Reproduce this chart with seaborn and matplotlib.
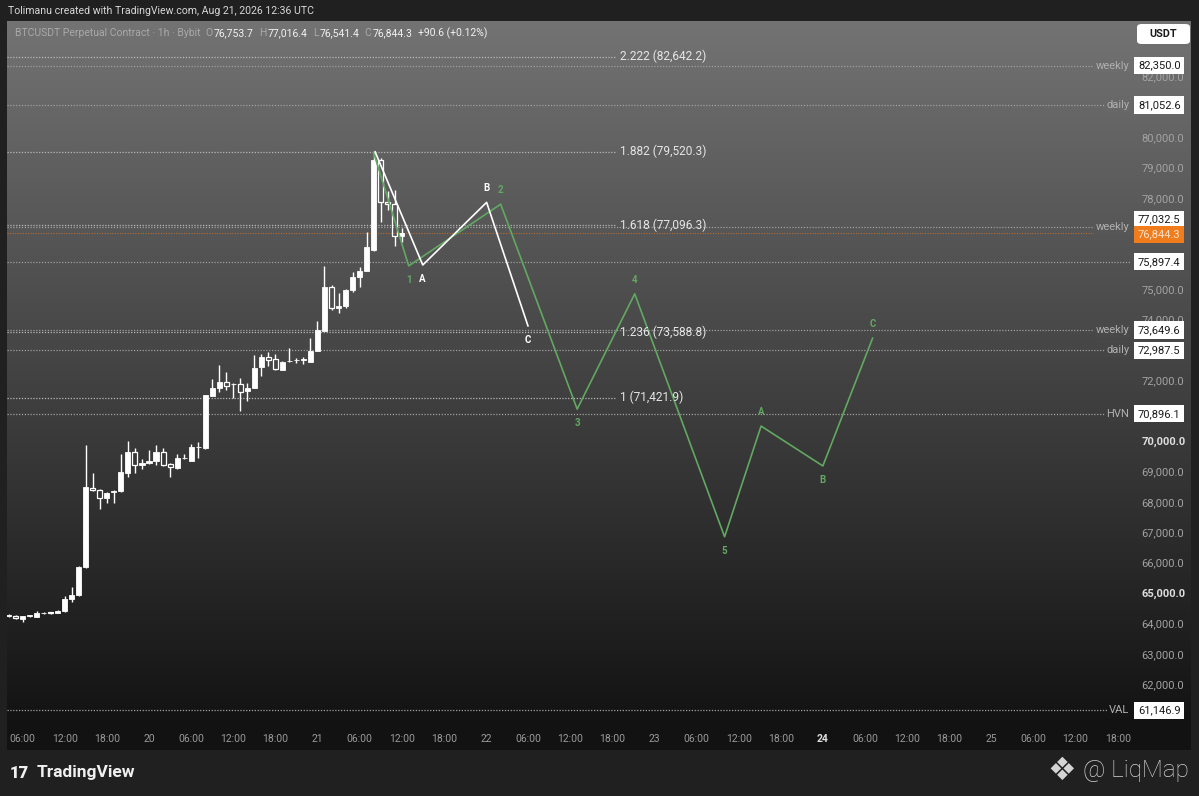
import numpy as np
import pandas as pd
import seaborn as sns
import matplotlib
matplotlib.use('Agg')
from matplotlib import pyplot as plt
from matplotlib.colors import LinearSegmentedColormap
from matplotlib.patches import Rectangle, FancyBboxPatch

# 1h candles, x = hours since Aug 19 00:00 UTC
hours = list(range(4, 61))
opens = [64250, 64240, 64130, 64240, 64220, 64330, 64350, 64350, 64400, 64790,
         64930, 65860, 68470, 68400, 68110, 68310, 68350, 68940, 69650, 69210,
         69270, 69350, 69650, 69230, 69100, 69430, 69350, 69790, 69760, 71490,
         71730, 71930, 71860, 71870, 71640, 71750, 72420, 72770, 72690, 72340,
         72620, 72650, 72660, 72610, 72960, 73630, 75080, 74370, 74440, 74970,
         75400, 75600, 76280, 79240, 77870, 77790, 76753.7]
highs = [64300, 64260, 64250, 64270, 64420, 64370, 64370, 64440, 64900, 65190,
         65880, 69870, 68960, 68420, 68330, 68380, 69560, 70010, 69760, 69400,
         69700, 69870, 69760, 69260, 69560, 69560, 69900, 69980, 71520, 72030,
         72500, 72280, 71900, 72080, 71920, 72830, 72860, 72920, 72850, 72640,
         73070, 72720, 72760, 73380, 73950, 75760, 75130, 74860, 75000, 75560,
         75730, 76890, 79520, 79300, 78230, 78270, 77016.4]
lows = [64220, 64140, 64050, 64220, 64200, 64320, 64320, 64340, 64380, 64690,
        64910, 65830, 68350, 67750, 67950, 67970, 68330, 68830, 68940, 69090,
        69250, 69210, 69180, 68830, 69080, 69400, 69340, 69430, 69740, 71470,
        71620, 71680, 71400, 71000, 71300, 71730, 72140, 72470, 72330, 72320,
        72600, 72550, 72520, 72600, 72950, 73610, 74310, 74200, 74380, 74910,
        75060, 75580, 76260, 77210, 77600, 76400, 76541.4]
closes = [64280, 64170, 64240, 64250, 64330, 64350, 64340, 64420, 64790, 64930,
          65860, 68500, 68400, 68110, 68300, 68360, 68970, 69650, 69210, 69290,
          69350, 69650, 69210, 69130, 69430, 69450, 69790, 69800, 71500, 71730,
          71930, 71810, 71880, 71620, 71750, 72410, 72770, 72660, 72360, 72610,
          72640, 72670, 72680, 72960, 73650, 75080, 74370, 74440, 74970, 75400,
          75600, 76380, 79240, 77870, 77800, 76730, 76844.3]

# wave counts
abc_x = [56.2, 63.0, 72.1, 78.0]
abc_y = [79520, 75790, 77850, 73780]
abc_lbl = ['', 'A', 'B', 'C']
imp_x = [56.0, 61.0, 74.1, 85.0, 93.2, 106.0, 111.2, 120.0, 127.1]
imp_y = [79490, 75760, 77790, 71050, 74840, 66850, 70490, 69180, 73390]
imp_lbl = ['', '1', '2', '3', '4', '5', 'A', 'B', 'C']

# levels
level_vals = [82350.0, 81052.6, 77032.5, 75897.4, 73649.6, 72987.5, 70896.1, 61146.9]
level_tags = ['weekly', 'daily', 'weekly', '', 'weekly', 'daily', 'HVN', 'VAL']
fib_ratios = ['2.222', '1.882', '1.618', '1.236', '1']
fib_vals = [82642.2, 79520.3, 77096.3, 73588.8, 71421.9]
last_price = 76844.3

# price scale ticks (the ones covered by level labels are left out)
ytick_vals = [62000, 63000, 64000, 65000, 66000, 67000, 68000, 69000, 70000,
              72000, 74000, 75000, 78000, 79000, 80000, 82000]
xtick_hours = list(range(6, 163, 6))

sns.set_theme(style='dark')
plt.rcParams['font.family'] = ['Roboto', 'DejaVu Sans']

W, H = 1199, 796
def fx(px):
    return px / W
def fy(py):
    return 1 - py / H

fig = plt.figure(figsize=(11.99, 7.96), dpi=100, facecolor='#202020')
renderer = fig.canvas.get_renderer()

# dark time-scale strip
fig.add_artist(Rectangle((fx(7), fy(750)), fx(1191) - fx(7), fy(728) - fy(750),
                         transform=fig.transFigure, fc='#121212', ec='none', zorder=0))

YMIN, YMAX = 60559, 83816
cmap = LinearSegmentedColormap.from_list('bg', ['#737373', '#121212'])
bg = fig.add_axes([fx(7), fy(728), fx(1191) - fx(7), fy(21) - fy(728)])
bg.imshow(np.linspace(0, 1, 256).reshape(-1, 1), aspect='auto', cmap=cmap,
          extent=[0, 1, 0, 1], origin='upper')
bg.axis('off')

ax = fig.add_axes([fx(7), fy(728), fx(1131) - fx(7), fy(21) - fy(728)])
ax.set_facecolor('none')
for s in ax.spines.values():
    s.set_visible(False)
ax.grid(False)
ax.set_xlim(3.77, 163.9)
ax.set_ylim(YMIN, YMAX)

def bgcol(v):
    return cmap((YMAX - v) / (YMAX - YMIN))

dots = (0, (1, 1.3))
ytr = ax.get_yaxis_transform()
box_kw = dict(boxstyle='square,pad=0.32', fc='white', ec='none')

# horizontal levels
for v, tag in zip(level_vals, level_tags):
    ax.axhline(v, color='#a0a0a0', lw=0.9, ls=dots, zorder=1)
    if tag:
        ax.text(0.9985, v, tag, transform=ytr, ha='right', va='center', fontsize=8,
                color='#b0b0b0', zorder=6,
                bbox=dict(boxstyle='square,pad=0.15', fc=bgcol(v), ec='none'))
    # the label right above the last price is pushed up, as on the price scale
    dy = 5.5 if v == 77032.5 else 0
    ax.annotate(f'{v:,.1f}', (1.0062, v), xycoords=ytr, xytext=(0, dy),
                textcoords='offset points', ha='left', va='center', fontsize=8,
                color='#1a1a1a', annotation_clip=False, zorder=8, bbox=box_kw)

ax.axhline(last_price, color='#d9792a', lw=0.8, ls=dots, alpha=0.7, zorder=1)
ax.annotate(f'{last_price:,.1f}', (1.0062, last_price), xycoords=ytr, xytext=(0, -1),
            textcoords='offset points', ha='left', va='center', fontsize=8,
            color='#fde3cc', annotation_clip=False, zorder=9,
            bbox=dict(boxstyle='square,pad=0.32', fc='#f07c1c', ec='none'))

# fib extension
fib_end = 90.4
for r, v in zip(fib_ratios, fib_vals):
    ax.hlines(v, 3.77, fib_end, color='#b8b8b8', lw=0.9, ls=dots, zorder=1)
    ax.text(fib_end + 0.7, v, f'{r} ({v:,.1f})', ha='left', va='center', fontsize=8.6,
            color='#e6e6e6', zorder=5)

# candles
o = np.array(opens, dtype=float)
c = np.array(closes, dtype=float)
hi = np.array(highs, dtype=float)
lo = np.array(lows, dtype=float)
x = np.array(hours, dtype=float)
top = np.maximum(o, c)
bot = np.minimum(o, c)
up = c >= o
ax.vlines(x, top, hi, color='white', lw=1, zorder=3)
ax.vlines(x, lo, bot, color='white', lw=1, zorder=3)
body = np.maximum(top - bot, 25)
ax.bar(x[up], body[up], bottom=bot[up], width=0.72, color='white', edgecolor='white',
       lw=0.6, zorder=3)
ax.bar(x[~up], body[~up], bottom=bot[~up], width=0.72, facecolor='none',
       edgecolor='white', lw=0.9, zorder=3)

# waves
green = '#62a862'
sns.lineplot(x=imp_x, y=imp_y, sort=False, color=green, lw=1.2, ax=ax, zorder=4)
sns.lineplot(x=abc_x, y=abc_y, sort=False, color='white', lw=1.2, ax=ax, zorder=4)

def wave_labels(xs, ys, lbls, col):
    for i, (xx, yy, lb) in enumerate(zip(xs, ys, lbls)):
        if not lb:
            continue
        peak = yy > ys[i - 1]
        ax.annotate(lb, (xx, yy), xytext=(0, 10 if peak else -10), textcoords='offset points',
                    ha='center', va='center', fontsize=7, fontweight='bold', color=col, zorder=6)

wave_labels(imp_x, imp_y, imp_lbl, green)
wave_labels(abc_x, abc_y, abc_lbl, 'white')

# axes ticks
ax.yaxis.tick_right()
ax.set_yticks(ytick_vals)
ax.set_yticklabels([f'{v:,.1f}' for v in ytick_vals])
ax.tick_params(axis='y', length=0, pad=7.5, labelsize=8, labelcolor='#a3a3a3')
for t, v in zip(ax.get_yticklabels(), ytick_vals):
    if v in (65000, 70000):
        t.set_color('#dedede')
        t.set_fontweight('bold')

xlabels = []
for h in xtick_hours:
    if h % 24 == 0:
        xlabels.append(str(19 + h // 24))
    else:
        xlabels.append(f'{h % 24:02d}:00')
ax.set_xticks(xtick_hours)
ax.set_xticklabels(xlabels)
ax.tick_params(axis='x', length=0, pad=4.5, labelsize=7.5, labelcolor='#9a9a9a')
for t in ax.get_xticklabels():
    if t.get_text() == '24':
        t.set_color('#e0e0e0')
        t.set_fontweight('bold')
ax.set_xlabel('')
ax.set_ylabel('')

# header
fig.text(fx(8), fy(11), 'Tolimanu created with TradingView.com, Aug 21, 2026 12:36 UTC',
         fontsize=7.6, color='#d8d8d8', va='center', ha='left')

gray_t, white_t = '#a9a9a9', '#f2f2f2'
legend_parts = [('BTCUSDT Perpetual Contract · 1h · Bybit', gray_t, 5.5),
                ('O', gray_t, 1), ('76,753.7', white_t, 5.5),
                ('H', gray_t, 1), ('77,016.4', white_t, 5.5),
                ('L', gray_t, 1), ('76,541.4', white_t, 5.5),
                ('C', gray_t, 1), ('76,844.3', white_t, 5.5),
                ('+90.6 (+0.12%)', white_t, 0)]
px = 14.5
for txt, col, gap in legend_parts:
    t = fig.text(fx(px), fy(33), txt, fontsize=7.5, color=col, va='center', ha='left')
    px += t.get_window_extent(renderer).width + gap

# currency button
fig.add_artist(FancyBboxPatch((fx(1137), fy(44)), fx(53), fy(0) - fy(20),
                              boxstyle='round,pad=0,rounding_size=0.004',
                              transform=fig.transFigure, fc='white', ec='none', zorder=5))
fig.text(fx(1163.5), fy(34), 'USDT', fontsize=7.8, fontweight='bold', color='#1a1a1a',
         ha='center', va='center', zorder=6)

# footer
fig.text(fx(10), fy(773), '17', fontsize=12, fontweight='heavy', color='#f0f0f0',
         va='center', ha='left')
fig.text(fx(37), fy(773), 'TradingView', fontsize=12.5, fontweight='bold', color='#f0f0f0',
         va='center', ha='left')
fig.text(fx(1062), fy(771), '❖', fontsize=23, color='#d4d4d4', va='center', ha='center',
         family=['DejaVu Sans'])
fig.text(fx(1189), fy(771), '@ LiqMap', fontsize=17.5, fontweight='light', color='#d4d4d4',
         va='center', ha='right')

fig.savefig('out.png', dpi=100, facecolor=fig.get_facecolor())
